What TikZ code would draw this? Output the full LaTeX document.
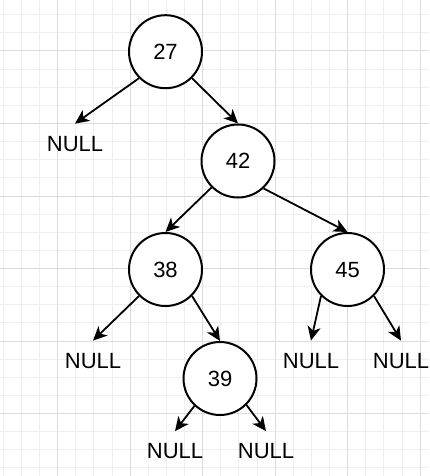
\documentclass[tikz,border=0pt]{standalone}
\usepackage{fontspec}
\setmainfont{Liberation Sans}
\usepackage{tikz}
\usetikzlibrary{calc}
\usetikzlibrary{arrows.meta, shapes}

\definecolor{grid_major}{HTML}{DCDCDC}
\definecolor{grid_minor}{HTML}{EFEFEF}

\begin{document}
\begin{tikzpicture}[x = 0.5pt, y = -0.5pt]

\tikzstyle{vertex_key}=[circle, draw=black, line width = 1pt, fill=white, minimum size = 36.5pt, inner sep = 0pt, text height = 8pt, text depth = 0pt, font=\fontsize{11}{13}\selectfont]
\tikzstyle{vertex_null}=[inner xsep = 1pt, inner ysep = 5.5pt, text height = 8pt, text depth = 0pt, font=\fontsize{11}{13}\selectfont]
\tikzstyle{edge}=[-{Stealth[length = 7pt, width = 6.5pt, inset = 2pt]}, line width = 0.9pt, color = black]

\useasboundingbox (0, 0) rectangle (429, 476);

% grid
\foreach \k in {-3,...,20}
  \draw[grid_minor, line width = 0.5pt] (57.7 + 18.125*\k, 0) -- (57.7 + 18.125*\k, 476);
\foreach \k in {-2,...,23}
  \draw[grid_minor, line width = 0.5pt] (0, 51 + 18.125*\k) -- (429, 51 + 18.125*\k);
\foreach \k in {0,...,5}
  \draw[grid_major, line width = 0.5pt] (57.7 + 72.5*\k, 0) -- (57.7 + 72.5*\k, 476);
\foreach \k in {0,...,5}
  \draw[grid_major, line width = 0.5pt] (0, 51 + 72.5*\k) -- (429, 51 + 72.5*\k);

\coordinate (K27) at (165.5, 51.7);
\coordinate (K42) at (238, 161);
\coordinate (K38) at (165.5, 269.5);
\coordinate (K45) at (347.5, 269.5);
\coordinate (K39) at (220, 378.5);
\coordinate (N1) at (75, 143);
\coordinate (N2) at (93, 360);
\coordinate (N3) at (311, 360);
\coordinate (N4) at (401, 360);
\coordinate (N5) at (175, 450.5);
\coordinate (N6) at (266, 450.5);

\path
(K27) node[vertex_key](k27) {27}
(K42) node[vertex_key](k42) {42}
(K38) node[vertex_key](k38) {38}
(K45) node[vertex_key](k45) {45}
(K39) node[vertex_key](k39) {39};

\path
(N1) node[vertex_null](null1) {NULL}
(N2) node[vertex_null](null2) {NULL}
(N3) node[vertex_null](null3) {NULL}
(N4) node[vertex_null](null4) {NULL}
(N5) node[vertex_null](null5) {NULL}
(N6) node[vertex_null](null6) {NULL};

% child links
\draw[edge] (k27.225) to (null1.north);
\draw[edge] (k27.-45) to (k42.north);
\draw[edge] (k42.225) to (k38.north);
\draw[edge] (k42.-47) to (k45.north);
\draw[edge] (k38.225) to (null2.north);
\draw[edge] (k38.-45) to (k39.north);
\draw[edge] (k45.225) to (null3.north);
\draw[edge] (k45.-45) to (null4.north);
\draw[edge] (k39.227) to (null5.north);
\draw[edge] (k39.-45) to (null6.north);

\end{tikzpicture}
\end{document}
